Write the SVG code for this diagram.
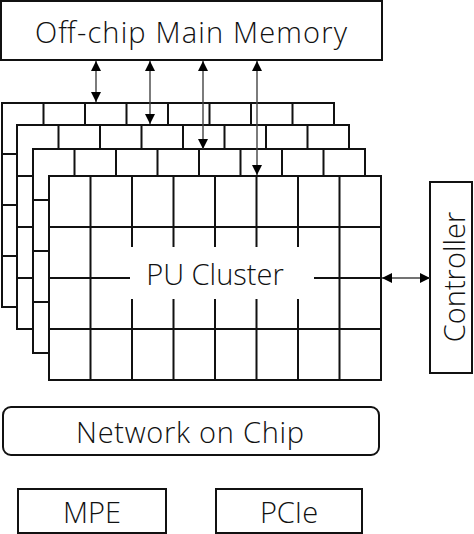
<svg xmlns="http://www.w3.org/2000/svg" xmlns:xlink="http://www.w3.org/1999/xlink" width="474" height="534" viewBox="0 0 474 534">
<style>
.box{fill:#fff;stroke:#111;stroke-width:2}
.lbl{font-family:"Open Sans","Noto Sans","Liberation Sans",sans-serif;font-size:29px;font-weight:350;fill:#111;text-anchor:middle}
.grid{fill:none;stroke:#111;stroke-width:2}
.arr{stroke:#444;stroke-width:1.4;fill:none;marker-start:url(#ah);marker-end:url(#ah)}
</style>
<defs>
<marker id="ah" viewBox="0 0 10 10" refX="10" refY="5" markerWidth="10" markerHeight="10" markerUnits="userSpaceOnUse" orient="auto-start-reverse">
<path d="M0,0 L10,5 L0,10 Z" fill="#000"/>
</marker>
<g id="gridlayer">
<rect class="box" x="0" y="0" width="332" height="204"/>
<path class="grid" d="M41.5,0V204M83,0V204M124.5,0V204M166,0V204M207.5,0V204M249,0V204M290.5,0V204M0,51H332M0,102H332M0,153H332"/>
</g>
</defs>
<g id="memory">
<rect class="box" x="1" y="1" width="381" height="59"/>
<text class="lbl" x="191" y="43" textLength="312" lengthAdjust="spacing">Off-chip Main Memory</text>
</g>
<g id="pu-cluster">
<use xlink:href="#gridlayer" x="2" y="103"/>
<use xlink:href="#gridlayer" x="17" y="125"/>
<use xlink:href="#gridlayer" x="33" y="149"/>
<use xlink:href="#gridlayer" x="49" y="176"/>
<rect x="130" y="247" width="184" height="52" fill="#fff"/>
<text class="lbl" x="215" y="285">PU Cluster</text>
</g>
<g id="controller">
<rect class="box" x="430" y="182" width="42" height="191"/>
<text class="lbl" transform="translate(465,277) rotate(-90)">Controller</text>
</g>
<g id="noc">
<rect class="box" x="3" y="407" width="376" height="48" rx="8"/>
<text class="lbl" x="190" y="443" textLength="228" lengthAdjust="spacing">Network on Chip</text>
</g>
<g id="mpe">
<rect class="box" x="18" y="489" width="148" height="44"/>
<text class="lbl" x="92" y="523">MPE</text>
</g>
<g id="pcie">
<rect class="box" x="216" y="489" width="146" height="44"/>
<text class="lbl" x="289" y="523">PCIe</text>
</g>
<g id="connectors">
<line class="arr" x1="96" y1="61" x2="96" y2="102"/>
<line class="arr" x1="150" y1="61" x2="150" y2="124"/>
<line class="arr" x1="203" y1="61" x2="203" y2="149"/>
<line class="arr" x1="257" y1="61" x2="257" y2="175"/>
<line class="arr" x1="382" y1="278" x2="430" y2="278"/>
</g>
</svg>
